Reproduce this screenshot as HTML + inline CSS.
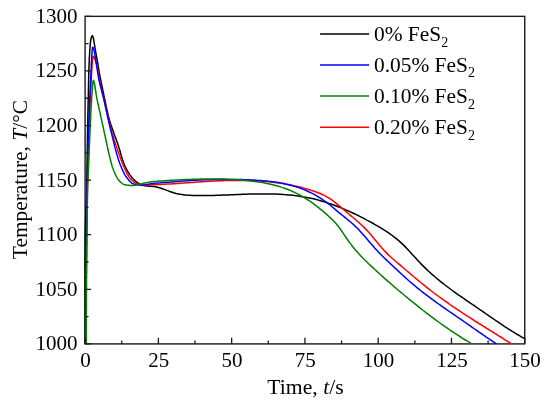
<!DOCTYPE html>
<html><head><meta charset="utf-8"><title>Cooling curves</title>
<style>
html,body{margin:0;padding:0;background:#fff}
svg{display:block}
text{font-family:"Liberation Serif","Times New Roman",serif;fill:#000}
</style></head><body>
<svg width="550" height="404" viewBox="0 0 550 404">
<rect width="550" height="404" fill="#fff"/>
<rect x="85.1" y="16.35" width="439.65" height="327.55" fill="none" stroke="#1a1a1a" stroke-width="1.4"/>
<g fill="none" stroke-width="1.5" stroke-linejoin="round" stroke-linecap="butt">
<path stroke="#000000" d="M85.1,343.9 L85.1,342.9 L85.1,341.9 L85.1,340.9 L85.1,339.9 L85.1,338.9 L85.1,337.9 L85.1,336.9 L85.1,335.9 L85.1,334.9 L85.1,333.9 L85.1,332.9 L85.1,331.9 L85.1,330.9 L85.1,329.9 L85.1,328.9 L85.1,327.9 L85.1,326.9 L85.1,325.9 L85.1,324.9 L85.1,323.9 L85.1,322.9 L85.1,321.9 L85.1,320.9 L85.1,319.9 L85.1,318.9 L85.1,317.9 L85.1,316.9 L85.1,315.9 L85.1,314.9 L85.1,313.9 L85.1,312.9 L85.1,311.9 L85.1,310.8 L85.1,309.8 L85.1,308.8 L85.1,307.8 L85.1,306.8 L85.1,305.8 L85.1,304.8 L85.1,303.8 L85.1,302.8 L85.1,301.8 L85.1,300.8 L85.1,299.8 L85.1,298.8 L85.1,297.8 L85.1,296.8 L85.1,295.8 L85.1,294.8 L85.1,293.8 L85.1,292.8 L85.1,291.8 L85.1,290.8 L85.1,289.8 L85.1,288.8 L85.1,287.8 L85.1,286.8 L85.1,285.8 L85.1,284.8 L85.1,283.8 L85.1,282.8 L85.1,281.8 L85.1,280.8 L85.1,279.8 L85.1,278.8 L85.1,277.8 L85.1,276.8 L85.1,275.8 L85.1,274.8 L85.1,273.8 L85.1,272.8 L85.1,271.8 L85.1,270.8 L85.1,269.8 L85.1,268.8 L85.1,267.8 L85.1,266.8 L85.1,265.8 L85.1,264.8 L85.1,263.8 L85.1,262.8 L85.1,261.8 L85.1,260.8 L85.1,259.8 L85.1,258.8 L85.1,257.8 L85.2,256.8 L85.2,255.8 L85.2,254.8 L85.2,253.8 L85.2,252.8 L85.2,251.8 L85.2,250.8 L85.2,249.8 L85.2,248.8 L85.2,247.8 L85.2,246.8 L85.2,245.8 L85.2,244.7 L85.2,243.7 L85.2,242.7 L85.2,241.7 L85.2,240.7 L85.2,239.7 L85.2,238.7 L85.2,237.7 L85.2,236.7 L85.2,235.7 L85.3,234.7 L85.3,233.7 L85.3,232.7 L85.3,231.7 L85.3,230.7 L85.3,229.7 L85.4,228.7 L85.4,227.7 L85.4,226.7 L85.5,225.7 L85.5,224.7 L85.5,223.7 L85.5,222.7 L85.6,221.7 L85.6,220.7 L85.6,219.7 L85.7,218.7 L85.7,217.7 L85.7,216.7 L85.7,215.7 L85.8,214.7 L85.8,213.7 L85.9,212.7 L85.9,211.7 L85.9,210.7 L86.0,209.7 L86.0,208.7 L86.1,207.7 L86.1,206.7 L86.2,205.7 L86.2,204.7 L86.3,203.7 L86.3,202.7 L86.4,201.7 L86.4,200.7 L86.5,199.7 L86.5,198.7 L86.5,197.7 L86.6,196.7 L86.6,195.7 L86.6,194.7 L86.6,193.7 L86.6,192.7 L86.7,191.7 L86.7,190.7 L86.7,189.7 L86.7,188.7 L86.7,187.7 L86.8,186.7 L86.8,185.7 L86.8,184.7 L86.8,183.7 L86.8,182.7 L86.8,181.7 L86.8,180.7 L86.9,179.7 L86.9,178.7 L86.9,177.7 L86.9,176.7 L86.9,175.7 L86.9,174.7 L86.9,173.7 L86.9,172.7 L86.9,171.7 L87.0,170.7 L87.0,169.7 L87.0,168.7 L87.0,167.7 L87.0,166.7 L87.0,165.7 L87.0,164.7 L87.0,163.7 L87.1,162.7 L87.1,161.7 L87.1,160.6 L87.1,159.6 L87.1,158.6 L87.1,157.6 L87.2,156.6 L87.2,155.6 L87.2,154.6 L87.2,153.6 L87.2,152.6 L87.2,151.6 L87.2,150.6 L87.3,149.6 L87.3,148.6 L87.3,147.6 L87.3,146.6 L87.3,145.6 L87.3,144.6 L87.4,143.6 L87.4,142.6 L87.4,141.6 L87.4,140.6 L87.4,139.6 L87.4,138.6 L87.5,137.6 L87.5,136.6 L87.5,135.6 L87.5,134.6 L87.5,133.6 L87.5,132.6 L87.6,131.6 L87.6,130.6 L87.6,129.6 L87.6,128.6 L87.6,127.6 L87.7,126.6 L87.7,125.6 L87.7,124.6 L87.7,123.6 L87.7,122.6 L87.7,121.6 L87.8,120.6 L87.8,119.6 L87.8,118.6 L87.8,117.6 L87.8,116.6 L87.9,115.6 L87.9,114.6 L87.9,113.6 L87.9,112.6 L88.0,111.6 L88.0,110.6 L88.0,109.6 L88.0,108.6 L88.0,107.6 L88.1,106.6 L88.1,105.6 L88.1,104.6 L88.1,103.6 L88.1,102.6 L88.2,101.6 L88.2,100.6 L88.2,99.6 L88.2,98.6 L88.3,97.6 L88.3,96.6 L88.3,95.6 L88.3,94.6 L88.3,93.6 L88.4,92.6 L88.4,91.6 L88.4,90.6 L88.4,89.6 L88.4,88.6 L88.5,87.5 L88.5,86.5 L88.5,85.5 L88.5,84.5 L88.5,83.5 L88.6,82.5 L88.6,81.5 L88.6,80.5 L88.6,79.5 L88.7,78.5 L88.7,77.5 L88.7,76.5 L88.7,75.5 L88.8,74.5 L88.8,73.5 L88.8,72.5 L88.9,71.5 L88.9,70.5 L88.9,69.5 L88.9,68.5 L89.0,67.5 L89.0,66.5 L89.1,65.5 L89.1,64.5 L89.1,63.5 L89.2,62.5 L89.2,61.5 L89.3,60.5 L89.3,59.5 L89.3,58.5 L89.4,57.5 L89.4,56.5 L89.5,55.5 L89.6,54.5 L89.6,53.5 L89.7,52.5 L89.7,51.5 L89.8,50.5 L89.9,49.5 L89.9,48.5 L90.0,47.5 L90.1,46.5 L90.2,45.5 L90.2,44.5 L90.3,43.5 L90.4,42.5 L90.6,41.5 L90.7,40.5 L90.9,39.5 L91.1,38.6 L91.4,37.4 L91.8,36.3 L92.3,35.7 L92.7,36.2 L93.1,37.3 L93.4,38.4 L93.6,39.3 L93.8,40.3 L94.0,41.3 L94.1,42.3 L94.3,43.3 L94.4,44.3 L94.6,45.3 L94.8,46.3 L94.9,47.2 L95.1,48.2 L95.2,49.2 L95.4,50.2 L95.5,51.2 L95.7,52.2 L95.9,53.2 L96.1,54.2 L96.2,55.1 L96.4,56.1 L96.6,57.1 L96.8,58.1 L97.0,59.1 L97.2,60.1 L97.3,61.1 L97.5,62.0 L97.7,63.0 L97.8,64.0 L98.0,65.0 L98.2,66.0 L98.3,67.0 L98.5,68.0 L98.7,69.0 L98.8,70.0 L99.0,70.9 L99.2,71.9 L99.3,72.9 L99.5,73.9 L99.7,74.9 L99.9,75.9 L100.1,76.8 L100.3,77.8 L100.5,78.8 L100.7,79.8 L100.9,80.8 L101.1,81.8 L101.3,82.7 L101.5,83.7 L101.7,84.7 L101.9,85.7 L102.1,86.6 L102.3,87.6 L102.5,88.6 L102.7,89.6 L102.9,90.6 L103.1,91.6 L103.3,92.5 L103.5,93.5 L103.7,94.5 L103.9,95.5 L104.1,96.5 L104.3,97.4 L104.5,98.4 L104.8,99.4 L105.0,100.4 L105.2,101.4 L105.4,102.3 L105.6,103.3 L105.8,104.3 L106.0,105.3 L106.2,106.3 L106.4,107.2 L106.6,108.2 L106.8,109.2 L107.1,110.2 L107.3,111.2 L107.5,112.1 L107.7,113.1 L107.9,114.1 L108.2,115.1 L108.4,116.0 L108.7,117.0 L108.9,118.0 L109.2,118.9 L109.4,119.9 L109.7,120.9 L110.0,121.8 L110.3,122.8 L110.6,123.7 L110.9,124.7 L111.3,125.6 L111.6,126.6 L111.9,127.5 L112.3,128.5 L112.6,129.4 L112.9,130.4 L113.3,131.3 L113.6,132.2 L113.9,133.2 L114.2,134.1 L114.6,135.1 L114.9,136.0 L115.3,137.0 L115.6,137.9 L116.0,138.8 L116.3,139.8 L116.7,140.7 L117.0,141.7 L117.3,142.6 L117.7,143.6 L118.0,144.5 L118.3,145.4 L118.6,146.4 L118.9,147.4 L119.2,148.3 L119.5,149.3 L119.8,150.2 L120.1,151.2 L120.3,152.2 L120.6,153.2 L120.9,154.1 L121.1,155.1 L121.4,156.1 L121.7,157.0 L122.0,158.0 L122.3,158.9 L122.6,159.9 L122.9,160.8 L123.2,161.8 L123.6,162.7 L123.9,163.6 L124.3,164.5 L124.7,165.5 L125.1,166.4 L125.6,167.3 L126.0,168.2 L126.5,169.1 L127.0,170.0 L127.4,170.9 L127.9,171.8 L128.5,172.6 L129.0,173.5 L129.5,174.3 L130.1,175.1 L130.7,175.9 L131.3,176.7 L131.9,177.5 L132.6,178.2 L133.3,179.0 L134.0,179.7 L134.7,180.4 L135.5,181.1 L136.3,181.7 L137.0,182.3 L137.9,182.9 L138.7,183.4 L139.6,183.9 L140.5,184.4 L141.5,184.8 L142.4,185.1 L143.3,185.3 L144.3,185.5 L145.3,185.7 L146.3,185.9 L147.3,186.0 L148.3,186.1 L149.3,186.2 L150.3,186.3 L152.3,186.5 L154.3,186.6 L156.3,186.9 L158.3,187.4 L160.3,188.0 L162.3,188.7 L164.3,189.4 L166.3,190.1 L168.3,190.9 L170.3,191.7 L172.3,192.3 L174.3,193.0 L176.3,193.5 L178.3,193.9 L180.3,194.3 L182.3,194.6 L184.3,194.9 L186.3,195.1 L188.3,195.2 L190.3,195.3 L192.3,195.4 L194.3,195.5 L196.3,195.5 L198.3,195.5 L200.3,195.5 L202.3,195.6 L204.3,195.5 L206.3,195.5 L208.3,195.5 L210.3,195.5 L212.3,195.4 L214.3,195.4 L216.3,195.3 L218.3,195.3 L220.3,195.2 L222.3,195.1 L224.3,195.1 L226.3,195.0 L228.3,194.9 L230.3,194.8 L232.3,194.7 L234.3,194.7 L236.3,194.6 L238.3,194.5 L240.3,194.4 L242.3,194.3 L244.3,194.3 L246.3,194.2 L248.3,194.1 L250.3,194.1 L252.3,194.0 L254.3,194.0 L256.3,193.9 L258.3,193.9 L260.3,193.9 L262.3,193.9 L264.3,193.9 L266.3,193.9 L268.3,193.9 L270.3,193.9 L272.3,194.0 L274.3,194.0 L276.3,194.1 L278.3,194.2 L280.3,194.3 L282.3,194.4 L284.3,194.6 L286.3,194.7 L288.3,194.9 L290.3,195.1 L292.3,195.3 L294.3,195.5 L296.3,195.8 L298.3,196.1 L300.3,196.4 L302.3,196.7 L304.3,197.0 L306.3,197.4 L308.3,197.8 L310.3,198.2 L312.3,198.6 L314.3,199.1 L316.3,199.6 L318.3,200.1 L320.3,200.7 L322.3,201.3 L324.3,201.9 L326.3,202.5 L328.3,203.2 L330.3,203.8 L332.3,204.5 L334.3,205.3 L336.3,206.0 L338.3,206.8 L340.3,207.6 L342.3,208.4 L344.3,209.2 L346.3,210.1 L348.3,211.0 L350.3,211.9 L352.3,212.8 L354.3,213.7 L356.3,214.7 L358.3,215.7 L360.3,216.7 L362.3,217.7 L364.3,218.7 L366.3,219.8 L368.3,220.8 L370.3,221.9 L372.3,223.0 L374.3,224.2 L376.3,225.3 L378.3,226.4 L380.3,227.6 L382.3,228.8 L384.3,230.1 L386.3,231.4 L388.3,232.7 L390.3,234.1 L392.3,235.5 L394.3,237.1 L396.3,238.7 L398.3,240.3 L400.3,242.1 L402.3,243.9 L404.3,245.9 L406.3,247.9 L408.3,250.0 L410.3,252.2 L412.3,254.4 L414.3,256.6 L416.3,258.8 L418.3,261.0 L420.3,263.1 L422.3,265.1 L424.3,267.1 L426.3,269.1 L428.3,271.0 L430.3,272.8 L432.3,274.6 L434.3,276.3 L436.3,278.0 L438.3,279.7 L440.3,281.3 L442.3,282.9 L444.3,284.5 L446.3,286.0 L448.3,287.5 L450.3,289.0 L452.3,290.5 L454.3,291.9 L456.3,293.3 L458.3,294.8 L460.3,296.2 L462.3,297.5 L464.3,298.9 L466.3,300.3 L468.3,301.7 L470.3,303.0 L472.3,304.4 L474.3,305.7 L476.3,307.1 L478.3,308.5 L480.3,309.9 L482.3,311.2 L484.3,312.6 L486.3,314.0 L488.3,315.4 L490.3,316.8 L492.3,318.1 L494.3,319.5 L496.3,320.9 L498.3,322.2 L500.3,323.6 L502.3,324.9 L504.3,326.3 L506.3,327.6 L508.3,328.9 L510.3,330.1 L512.3,331.4 L514.3,332.6 L516.3,333.8 L518.3,335.0 L520.3,336.2 L522.3,337.3 L524.3,338.4 L524.5,338.5"/>
<path stroke="#ff0000" d="M86.0,343.9 L86.0,342.9 L86.0,341.9 L86.0,340.9 L86.0,339.9 L86.0,338.9 L86.0,337.9 L86.0,336.9 L86.0,335.9 L86.0,334.9 L86.0,333.9 L86.0,332.9 L86.0,331.9 L86.1,330.9 L86.1,329.9 L86.1,328.9 L86.1,327.9 L86.1,326.9 L86.1,325.9 L86.1,324.9 L86.1,323.9 L86.1,322.9 L86.1,321.9 L86.1,320.9 L86.1,319.9 L86.1,318.9 L86.1,317.9 L86.1,316.9 L86.1,315.8 L86.1,314.8 L86.1,313.8 L86.1,312.8 L86.1,311.8 L86.1,310.8 L86.1,309.8 L86.2,308.8 L86.2,307.8 L86.2,306.8 L86.2,305.8 L86.2,304.8 L86.2,303.8 L86.2,302.8 L86.2,301.8 L86.2,300.8 L86.2,299.8 L86.2,298.8 L86.2,297.8 L86.2,296.8 L86.2,295.8 L86.2,294.8 L86.2,293.8 L86.2,292.8 L86.2,291.8 L86.2,290.8 L86.3,289.8 L86.3,288.8 L86.3,287.8 L86.3,286.8 L86.3,285.8 L86.3,284.8 L86.3,283.8 L86.3,282.8 L86.3,281.8 L86.3,280.8 L86.3,279.8 L86.3,278.8 L86.3,277.8 L86.3,276.8 L86.3,275.8 L86.3,274.8 L86.3,273.8 L86.4,272.8 L86.4,271.8 L86.4,270.8 L86.4,269.8 L86.4,268.8 L86.4,267.8 L86.4,266.8 L86.4,265.8 L86.4,264.8 L86.4,263.8 L86.4,262.8 L86.4,261.8 L86.4,260.7 L86.4,259.7 L86.4,258.7 L86.5,257.7 L86.5,256.7 L86.5,255.7 L86.5,254.7 L86.5,253.7 L86.5,252.7 L86.5,251.7 L86.5,250.7 L86.5,249.7 L86.5,248.7 L86.5,247.7 L86.5,246.7 L86.5,245.7 L86.6,244.7 L86.6,243.7 L86.6,242.7 L86.6,241.7 L86.6,240.7 L86.6,239.7 L86.6,238.7 L86.6,237.7 L86.6,236.7 L86.6,235.7 L86.7,234.7 L86.7,233.7 L86.7,232.7 L86.7,231.7 L86.7,230.7 L86.7,229.7 L86.7,228.7 L86.7,227.7 L86.8,226.7 L86.8,225.7 L86.8,224.7 L86.8,223.7 L86.8,222.7 L86.8,221.7 L86.8,220.7 L86.9,219.7 L86.9,218.7 L86.9,217.7 L86.9,216.7 L86.9,215.7 L86.9,214.7 L87.0,213.7 L87.0,212.7 L87.0,211.7 L87.0,210.7 L87.0,209.7 L87.1,208.7 L87.1,207.7 L87.1,206.7 L87.1,205.7 L87.1,204.7 L87.1,203.7 L87.2,202.6 L87.2,201.6 L87.2,200.6 L87.2,199.6 L87.2,198.6 L87.3,197.6 L87.3,196.6 L87.3,195.6 L87.3,194.6 L87.3,193.6 L87.4,192.6 L87.4,191.6 L87.4,190.6 L87.4,189.6 L87.4,188.6 L87.4,187.6 L87.5,186.6 L87.5,185.6 L87.5,184.6 L87.5,183.6 L87.5,182.6 L87.6,181.6 L87.6,180.6 L87.6,179.6 L87.6,178.6 L87.6,177.6 L87.7,176.6 L87.7,175.6 L87.7,174.6 L87.7,173.6 L87.7,172.6 L87.8,171.6 L87.8,170.6 L87.8,169.6 L87.8,168.6 L87.9,167.6 L87.9,166.6 L87.9,165.6 L87.9,164.6 L87.9,163.6 L88.0,162.6 L88.0,161.6 L88.0,160.6 L88.0,159.6 L88.1,158.6 L88.1,157.6 L88.1,156.6 L88.1,155.6 L88.2,154.6 L88.2,153.6 L88.2,152.6 L88.3,151.6 L88.3,150.6 L88.3,149.6 L88.3,148.6 L88.4,147.6 L88.4,146.6 L88.4,145.6 L88.5,144.6 L88.5,143.6 L88.5,142.6 L88.6,141.6 L88.6,140.6 L88.6,139.6 L88.7,138.6 L88.7,137.5 L88.7,136.5 L88.8,135.5 L88.8,134.5 L88.9,133.5 L88.9,132.5 L88.9,131.5 L89.0,130.5 L89.0,129.5 L89.1,128.5 L89.1,127.5 L89.1,126.5 L89.2,125.5 L89.2,124.5 L89.3,123.5 L89.3,122.5 L89.3,121.5 L89.4,120.5 L89.4,119.5 L89.5,118.5 L89.5,117.5 L89.5,116.5 L89.6,115.5 L89.6,114.5 L89.7,113.5 L89.7,112.5 L89.8,111.5 L89.8,110.5 L89.8,109.5 L89.9,108.5 L89.9,107.5 L90.0,106.5 L90.0,105.5 L90.1,104.5 L90.1,103.5 L90.2,102.5 L90.2,101.5 L90.3,100.5 L90.3,99.5 L90.4,98.5 L90.4,97.5 L90.4,96.5 L90.5,95.5 L90.5,94.5 L90.6,93.5 L90.6,92.5 L90.7,91.5 L90.7,90.5 L90.8,89.5 L90.8,88.5 L90.9,87.5 L90.9,86.5 L91.0,85.5 L91.0,84.5 L91.1,83.5 L91.1,82.5 L91.2,81.5 L91.2,80.5 L91.3,79.5 L91.3,78.5 L91.4,77.5 L91.4,76.5 L91.5,75.5 L91.5,74.5 L91.6,73.5 L91.6,72.5 L91.7,71.5 L91.8,70.5 L91.8,69.5 L91.9,68.5 L92.0,67.5 L92.0,66.5 L92.1,65.5 L92.1,64.5 L92.2,63.5 L92.3,62.5 L92.4,61.5 L92.5,60.5 L92.6,59.5 L92.7,58.3 L92.9,57.1 L93.1,56.3 L93.5,56.4 L94.0,57.4 L94.6,58.5 L95.0,59.4 L95.3,60.3 L95.7,61.3 L96.0,62.2 L96.3,63.2 L96.5,64.1 L96.8,65.1 L97.0,66.1 L97.2,67.1 L97.4,68.1 L97.6,69.0 L97.8,70.0 L98.0,71.0 L98.1,72.0 L98.3,73.0 L98.4,74.0 L98.6,75.0 L98.7,76.0 L98.9,77.0 L99.0,77.9 L99.2,78.9 L99.4,79.9 L99.6,80.9 L99.8,81.9 L100.0,82.9 L100.2,83.8 L100.5,84.8 L100.7,85.8 L100.9,86.8 L101.2,87.7 L101.4,88.7 L101.6,89.7 L101.9,90.6 L102.1,91.6 L102.4,92.6 L102.6,93.6 L102.8,94.5 L103.1,95.5 L103.3,96.5 L103.6,97.5 L103.8,98.4 L104.1,99.4 L104.3,100.4 L104.5,101.3 L104.7,102.3 L105.0,103.3 L105.2,104.3 L105.4,105.3 L105.6,106.2 L105.8,107.2 L106.0,108.2 L106.3,109.2 L106.5,110.2 L106.7,111.1 L106.9,112.1 L107.1,113.1 L107.3,114.1 L107.6,115.0 L107.8,116.0 L108.0,117.0 L108.2,118.0 L108.5,118.9 L108.7,119.9 L109.0,120.9 L109.2,121.9 L109.5,122.8 L109.7,123.8 L110.0,124.8 L110.2,125.7 L110.5,126.7 L110.7,127.7 L111.0,128.6 L111.2,129.6 L111.5,130.6 L111.8,131.5 L112.0,132.5 L112.3,133.5 L112.6,134.4 L112.9,135.4 L113.2,136.4 L113.4,137.3 L113.7,138.3 L114.0,139.2 L114.3,140.2 L114.6,141.1 L114.9,142.1 L115.2,143.1 L115.5,144.0 L115.9,145.0 L116.2,145.9 L116.5,146.9 L116.8,147.8 L117.2,148.7 L117.5,149.7 L117.8,150.6 L118.2,151.6 L118.5,152.5 L118.8,153.5 L119.2,154.4 L119.5,155.4 L119.8,156.3 L120.2,157.3 L120.5,158.2 L120.9,159.2 L121.2,160.1 L121.6,161.0 L121.9,162.0 L122.3,162.9 L122.7,163.8 L123.0,164.7 L123.4,165.7 L123.8,166.6 L124.2,167.5 L124.7,168.4 L125.1,169.4 L125.5,170.3 L125.9,171.2 L126.4,172.2 L126.8,173.1 L127.3,174.0 L127.8,174.9 L128.3,175.7 L128.8,176.6 L129.4,177.4 L129.9,178.1 L130.5,178.9 L131.2,179.6 L131.9,180.3 L132.7,181.0 L133.5,181.6 L134.3,182.3 L135.2,182.8 L136.1,183.3 L136.9,183.7 L137.8,184.1 L138.8,184.5 L139.7,184.8 L140.7,185.1 L141.7,185.4 L142.7,185.5 L143.7,185.5 L144.7,185.5 L145.7,185.4 L146.7,185.4 L147.7,185.3 L148.7,185.2 L149.7,185.1 L150.7,185.0 L152.7,184.8 L154.7,184.7 L156.7,184.6 L158.7,184.5 L160.7,184.4 L162.7,184.3 L164.7,184.2 L166.7,184.1 L168.7,184.0 L170.7,183.9 L172.7,183.8 L174.7,183.7 L176.7,183.5 L178.7,183.4 L180.7,183.2 L182.7,183.1 L184.7,182.9 L186.7,182.8 L188.7,182.7 L190.7,182.5 L192.7,182.4 L194.7,182.2 L196.7,182.1 L198.7,182.0 L200.7,181.8 L202.7,181.7 L204.7,181.6 L206.7,181.5 L208.7,181.3 L210.7,181.2 L212.7,181.1 L214.7,181.0 L216.7,180.9 L218.7,180.8 L220.7,180.8 L222.7,180.7 L224.7,180.6 L226.7,180.6 L228.7,180.5 L230.7,180.5 L232.7,180.4 L234.7,180.4 L236.7,180.4 L238.7,180.4 L240.7,180.4 L242.7,180.4 L244.7,180.4 L246.7,180.5 L248.7,180.5 L250.7,180.6 L252.7,180.7 L254.7,180.7 L256.7,180.9 L258.7,181.0 L260.7,181.1 L262.7,181.2 L264.7,181.4 L266.7,181.6 L268.7,181.8 L270.7,182.0 L272.7,182.2 L274.7,182.4 L276.7,182.7 L278.7,183.0 L280.7,183.3 L282.7,183.6 L284.7,183.9 L286.7,184.3 L288.7,184.6 L290.7,185.0 L292.7,185.4 L294.7,185.9 L296.7,186.3 L298.7,186.8 L300.7,187.3 L302.7,187.8 L304.7,188.4 L306.7,188.9 L308.7,189.5 L310.7,190.2 L312.7,190.8 L314.7,191.5 L316.7,192.2 L318.7,193.0 L320.7,193.8 L322.7,194.7 L324.7,195.7 L326.7,196.8 L328.7,197.9 L330.7,199.2 L332.7,200.7 L334.7,202.2 L336.7,203.8 L338.7,205.4 L340.7,207.1 L342.7,208.8 L344.7,210.5 L346.7,212.3 L348.7,214.0 L350.7,215.6 L352.7,217.3 L354.7,219.0 L356.7,220.7 L358.7,222.4 L360.7,224.2 L362.7,226.1 L364.7,228.1 L366.7,230.1 L368.7,232.3 L370.7,234.6 L372.7,237.0 L374.7,239.4 L376.7,241.8 L378.7,244.2 L380.7,246.6 L382.7,248.9 L384.7,251.1 L386.7,253.1 L388.7,255.1 L390.7,257.0 L392.7,258.8 L394.7,260.5 L396.7,262.2 L398.7,263.9 L400.7,265.6 L402.7,267.3 L404.7,269.0 L406.7,270.7 L408.7,272.4 L410.7,274.1 L412.7,275.8 L414.7,277.5 L416.7,279.2 L418.7,280.8 L420.7,282.5 L422.7,284.1 L424.7,285.7 L426.7,287.3 L428.7,288.9 L430.7,290.5 L432.7,292.0 L434.7,293.5 L436.7,295.0 L438.7,296.5 L440.7,297.9 L442.7,299.4 L444.7,300.8 L446.7,302.2 L448.7,303.6 L450.7,305.0 L452.7,306.4 L454.7,307.7 L456.7,309.1 L458.7,310.4 L460.7,311.7 L462.7,313.1 L464.7,314.4 L466.7,315.7 L468.7,316.9 L470.7,318.2 L472.7,319.5 L474.7,320.8 L476.7,322.0 L478.7,323.3 L480.7,324.5 L482.7,325.8 L484.7,327.0 L486.7,328.3 L488.7,329.5 L490.7,330.8 L492.7,332.0 L494.7,333.3 L496.7,334.5 L498.7,335.8 L500.7,337.0 L502.7,338.3 L504.7,339.6 L506.7,340.8 L508.7,342.1 L510.7,343.4 L511.5,343.9"/>
<path stroke="#0000ff" d="M85.9,343.9 L85.9,342.9 L85.9,341.9 L85.9,340.9 L85.9,339.9 L85.9,338.9 L85.9,337.9 L85.9,336.9 L85.9,335.9 L85.9,334.9 L85.9,333.9 L85.9,332.9 L85.9,331.9 L86.0,330.9 L86.0,329.9 L86.0,328.9 L86.0,327.9 L86.0,326.9 L86.0,325.9 L86.0,324.9 L86.0,323.9 L86.0,322.9 L86.0,321.9 L86.0,320.9 L86.0,319.9 L86.0,318.9 L86.0,317.9 L86.0,316.9 L86.0,315.9 L86.0,314.9 L86.0,313.9 L86.0,312.9 L86.0,311.9 L86.0,310.9 L86.0,309.8 L86.1,308.8 L86.1,307.8 L86.1,306.8 L86.1,305.8 L86.1,304.8 L86.1,303.8 L86.1,302.8 L86.1,301.8 L86.1,300.8 L86.1,299.8 L86.1,298.8 L86.1,297.8 L86.1,296.8 L86.1,295.8 L86.1,294.8 L86.1,293.8 L86.1,292.8 L86.1,291.8 L86.1,290.8 L86.2,289.8 L86.2,288.8 L86.2,287.8 L86.2,286.8 L86.2,285.8 L86.2,284.8 L86.2,283.8 L86.2,282.8 L86.2,281.8 L86.2,280.8 L86.2,279.8 L86.2,278.8 L86.2,277.8 L86.2,276.8 L86.2,275.8 L86.2,274.8 L86.2,273.8 L86.3,272.8 L86.3,271.8 L86.3,270.8 L86.3,269.8 L86.3,268.8 L86.3,267.8 L86.3,266.8 L86.3,265.8 L86.3,264.8 L86.3,263.8 L86.3,262.8 L86.3,261.8 L86.3,260.8 L86.3,259.8 L86.3,258.8 L86.4,257.8 L86.4,256.8 L86.4,255.8 L86.4,254.8 L86.4,253.8 L86.4,252.8 L86.4,251.8 L86.4,250.8 L86.4,249.8 L86.4,248.8 L86.4,247.8 L86.4,246.8 L86.4,245.8 L86.5,244.8 L86.5,243.7 L86.5,242.7 L86.5,241.7 L86.5,240.7 L86.5,239.7 L86.5,238.7 L86.5,237.7 L86.5,236.7 L86.5,235.7 L86.6,234.7 L86.6,233.7 L86.6,232.7 L86.6,231.7 L86.6,230.7 L86.6,229.7 L86.6,228.7 L86.6,227.7 L86.6,226.7 L86.7,225.7 L86.7,224.7 L86.7,223.7 L86.7,222.7 L86.7,221.7 L86.7,220.7 L86.7,219.7 L86.7,218.7 L86.8,217.7 L86.8,216.7 L86.8,215.7 L86.8,214.7 L86.8,213.7 L86.8,212.7 L86.8,211.7 L86.9,210.7 L86.9,209.7 L86.9,208.7 L86.9,207.7 L86.9,206.7 L86.9,205.7 L87.0,204.7 L87.0,203.7 L87.0,202.7 L87.0,201.7 L87.0,200.7 L87.0,199.7 L87.0,198.7 L87.1,197.7 L87.1,196.7 L87.1,195.7 L87.1,194.7 L87.1,193.7 L87.2,192.7 L87.2,191.7 L87.2,190.7 L87.2,189.7 L87.2,188.7 L87.2,187.7 L87.3,186.7 L87.3,185.7 L87.3,184.7 L87.3,183.7 L87.3,182.7 L87.4,181.7 L87.4,180.7 L87.4,179.7 L87.4,178.7 L87.5,177.7 L87.5,176.7 L87.5,175.7 L87.5,174.7 L87.6,173.7 L87.6,172.7 L87.6,171.7 L87.6,170.6 L87.7,169.6 L87.7,168.6 L87.7,167.6 L87.7,166.6 L87.8,165.6 L87.8,164.6 L87.8,163.6 L87.8,162.6 L87.9,161.6 L87.9,160.6 L87.9,159.6 L87.9,158.6 L88.0,157.6 L88.0,156.6 L88.0,155.6 L88.0,154.6 L88.0,153.6 L88.1,152.6 L88.1,151.6 L88.1,150.6 L88.1,149.6 L88.1,148.6 L88.2,147.6 L88.2,146.6 L88.2,145.6 L88.2,144.6 L88.3,143.6 L88.3,142.6 L88.3,141.6 L88.3,140.6 L88.3,139.6 L88.4,138.6 L88.4,137.6 L88.4,136.6 L88.4,135.6 L88.5,134.6 L88.5,133.6 L88.5,132.6 L88.5,131.6 L88.6,130.6 L88.6,129.6 L88.6,128.6 L88.7,127.6 L88.7,126.6 L88.7,125.6 L88.7,124.6 L88.8,123.6 L88.8,122.6 L88.8,121.6 L88.9,120.6 L88.9,119.6 L89.0,118.6 L89.0,117.6 L89.0,116.6 L89.1,115.6 L89.1,114.6 L89.1,113.6 L89.2,112.6 L89.2,111.6 L89.3,110.6 L89.3,109.6 L89.3,108.6 L89.4,107.6 L89.4,106.6 L89.5,105.6 L89.5,104.6 L89.5,103.6 L89.6,102.6 L89.6,101.6 L89.7,100.6 L89.7,99.6 L89.7,98.6 L89.8,97.6 L89.8,96.6 L89.9,95.6 L89.9,94.6 L90.0,93.6 L90.0,92.6 L90.1,91.6 L90.1,90.6 L90.1,89.6 L90.2,88.6 L90.2,87.6 L90.3,86.6 L90.3,85.6 L90.4,84.6 L90.4,83.6 L90.5,82.6 L90.5,81.6 L90.6,80.6 L90.6,79.6 L90.7,78.6 L90.7,77.6 L90.8,76.6 L90.8,75.6 L90.9,74.6 L90.9,73.6 L91.0,72.6 L91.0,71.6 L91.1,70.6 L91.1,69.6 L91.2,68.6 L91.2,67.6 L91.3,66.6 L91.3,65.6 L91.3,64.6 L91.4,63.6 L91.4,62.6 L91.5,61.5 L91.5,60.5 L91.6,59.5 L91.6,58.5 L91.7,57.5 L91.7,56.5 L91.8,55.6 L91.9,54.6 L92.0,53.6 L92.0,52.5 L92.1,51.3 L92.2,50.0 L92.4,48.8 L92.5,47.8 L92.7,47.3 L93.0,47.4 L93.4,48.3 L93.9,49.5 L94.1,50.5 L94.4,51.5 L94.5,52.5 L94.7,53.5 L94.9,54.5 L95.0,55.5 L95.1,56.5 L95.3,57.4 L95.4,58.4 L95.6,59.4 L95.8,60.4 L95.9,61.4 L96.1,62.4 L96.2,63.4 L96.4,64.4 L96.6,65.4 L96.7,66.4 L96.9,67.3 L97.0,68.3 L97.2,69.3 L97.3,70.3 L97.5,71.3 L97.7,72.3 L97.8,73.3 L98.0,74.3 L98.1,75.3 L98.3,76.3 L98.4,77.2 L98.6,78.2 L98.8,79.2 L99.0,80.2 L99.2,81.2 L99.4,82.1 L99.7,83.1 L99.9,84.1 L100.2,85.0 L100.5,86.0 L100.7,87.0 L101.0,87.9 L101.3,88.9 L101.5,89.9 L101.7,90.9 L102.0,91.8 L102.2,92.8 L102.5,93.8 L102.7,94.7 L103.0,95.7 L103.2,96.7 L103.4,97.7 L103.7,98.6 L103.9,99.6 L104.1,100.6 L104.3,101.6 L104.6,102.5 L104.8,103.5 L105.0,104.5 L105.2,105.5 L105.4,106.5 L105.6,107.4 L105.8,108.4 L106.0,109.4 L106.2,110.4 L106.4,111.4 L106.7,112.3 L106.9,113.3 L107.1,114.3 L107.3,115.3 L107.5,116.3 L107.7,117.2 L107.9,118.2 L108.2,119.2 L108.4,120.2 L108.6,121.1 L108.8,122.1 L109.1,123.1 L109.3,124.1 L109.5,125.0 L109.8,126.0 L110.0,127.0 L110.2,128.0 L110.5,128.9 L110.7,129.9 L110.9,130.9 L111.2,131.8 L111.4,132.8 L111.7,133.8 L111.9,134.8 L112.1,135.7 L112.4,136.7 L112.6,137.7 L112.9,138.7 L113.1,139.6 L113.3,140.6 L113.6,141.6 L113.8,142.5 L114.0,143.5 L114.3,144.5 L114.5,145.5 L114.7,146.4 L115.0,147.4 L115.2,148.4 L115.5,149.4 L115.7,150.3 L116.0,151.3 L116.3,152.2 L116.6,153.2 L116.8,154.2 L117.1,155.1 L117.4,156.1 L117.7,157.1 L118.0,158.0 L118.3,159.0 L118.6,160.0 L118.9,160.9 L119.2,161.9 L119.6,162.8 L119.9,163.7 L120.3,164.7 L120.6,165.6 L121.0,166.5 L121.4,167.4 L121.8,168.4 L122.2,169.3 L122.6,170.2 L123.0,171.2 L123.5,172.1 L124.0,173.0 L124.4,173.9 L124.9,174.8 L125.4,175.6 L126.0,176.5 L126.5,177.3 L127.1,178.1 L127.7,178.8 L128.3,179.6 L129.0,180.4 L129.7,181.2 L130.5,182.0 L131.3,182.7 L132.1,183.3 L132.9,183.8 L133.8,184.1 L134.6,184.3 L135.6,184.5 L136.6,184.7 L137.6,184.8 L138.6,185.0 L139.7,185.0 L140.7,185.1 L141.7,185.1 L142.7,185.1 L143.7,185.0 L144.7,184.9 L145.6,184.7 L146.6,184.6 L147.6,184.4 L148.6,184.2 L149.6,184.0 L150.6,183.8 L152.6,183.5 L154.6,183.2 L156.6,183.1 L158.6,182.9 L160.6,182.8 L162.6,182.6 L164.6,182.5 L166.6,182.3 L168.6,182.2 L170.6,182.0 L172.6,181.9 L174.6,181.7 L176.6,181.6 L178.6,181.4 L180.6,181.2 L182.6,181.1 L184.6,181.0 L186.6,180.8 L188.6,180.7 L190.6,180.6 L192.6,180.4 L194.6,180.3 L196.6,180.2 L198.6,180.1 L200.6,180.0 L202.6,179.9 L204.6,179.8 L206.6,179.8 L208.6,179.7 L210.6,179.6 L212.6,179.6 L214.6,179.5 L216.6,179.5 L218.6,179.4 L220.6,179.4 L222.6,179.4 L224.6,179.4 L226.6,179.4 L228.6,179.4 L230.6,179.4 L232.6,179.4 L234.6,179.4 L236.6,179.5 L238.6,179.5 L240.6,179.5 L242.6,179.6 L244.6,179.7 L246.6,179.7 L248.6,179.8 L250.6,179.9 L252.6,180.0 L254.6,180.1 L256.6,180.3 L258.6,180.4 L260.6,180.5 L262.6,180.7 L264.6,180.9 L266.6,181.0 L268.6,181.3 L270.6,181.5 L272.6,181.7 L274.6,182.0 L276.6,182.3 L278.6,182.6 L280.6,183.0 L282.6,183.3 L284.6,183.8 L286.6,184.2 L288.6,184.7 L290.6,185.2 L292.6,185.7 L294.6,186.3 L296.6,187.0 L298.6,187.6 L300.6,188.3 L302.6,189.1 L304.6,189.9 L306.6,190.8 L308.6,191.7 L310.6,192.6 L312.6,193.6 L314.6,194.7 L316.6,195.8 L318.6,197.0 L320.6,198.3 L322.6,199.6 L324.6,201.0 L326.6,202.4 L328.6,203.9 L330.6,205.5 L332.6,207.2 L334.6,208.9 L336.6,210.6 L338.6,212.3 L340.6,213.9 L342.6,215.5 L344.6,217.1 L346.6,218.7 L348.6,220.4 L350.6,222.0 L352.6,223.8 L354.6,225.6 L356.6,227.5 L358.6,229.6 L360.6,231.7 L362.6,234.0 L364.6,236.3 L366.6,238.6 L368.6,241.0 L370.6,243.3 L372.6,245.6 L374.6,247.9 L376.6,250.1 L378.6,252.2 L380.6,254.3 L382.6,256.3 L384.6,258.2 L386.6,260.1 L388.6,262.0 L390.6,263.9 L392.6,265.7 L394.6,267.6 L396.6,269.5 L398.6,271.4 L400.6,273.2 L402.6,275.0 L404.6,276.9 L406.6,278.7 L408.6,280.5 L410.6,282.2 L412.6,283.9 L414.6,285.6 L416.6,287.3 L418.6,288.9 L420.6,290.5 L422.6,292.1 L424.6,293.7 L426.6,295.2 L428.6,296.7 L430.6,298.2 L432.6,299.7 L434.6,301.1 L436.6,302.6 L438.6,304.0 L440.6,305.4 L442.6,306.8 L444.6,308.2 L446.6,309.6 L448.6,311.0 L450.6,312.4 L452.6,313.7 L454.6,315.1 L456.6,316.5 L458.6,317.9 L460.6,319.2 L462.6,320.6 L464.6,322.0 L466.6,323.4 L468.6,324.8 L470.6,326.2 L472.6,327.6 L474.6,329.0 L476.6,330.4 L478.6,331.8 L480.6,333.2 L482.6,334.5 L484.6,335.9 L486.6,337.3 L488.6,338.6 L490.6,340.0 L492.6,341.3 L494.6,342.6 L496.4,343.8"/>
<path stroke="#008000" d="M86.2,343.9 L86.2,342.9 L86.2,341.9 L86.2,340.9 L86.2,339.9 L86.2,338.9 L86.2,337.9 L86.2,336.9 L86.2,335.9 L86.2,334.9 L86.2,333.9 L86.2,332.9 L86.2,331.9 L86.2,330.9 L86.2,329.9 L86.3,328.9 L86.3,327.9 L86.3,326.9 L86.3,325.9 L86.3,324.9 L86.3,323.9 L86.3,322.9 L86.3,321.9 L86.3,320.9 L86.3,319.9 L86.3,318.8 L86.3,317.8 L86.3,316.8 L86.3,315.8 L86.3,314.8 L86.3,313.8 L86.3,312.8 L86.3,311.8 L86.3,310.8 L86.3,309.8 L86.4,308.8 L86.4,307.8 L86.4,306.8 L86.4,305.8 L86.4,304.8 L86.4,303.8 L86.4,302.8 L86.4,301.8 L86.4,300.8 L86.4,299.8 L86.4,298.8 L86.4,297.8 L86.4,296.8 L86.4,295.8 L86.4,294.8 L86.4,293.8 L86.4,292.8 L86.5,291.8 L86.5,290.8 L86.5,289.8 L86.5,288.8 L86.5,287.8 L86.5,286.8 L86.5,285.8 L86.5,284.8 L86.5,283.8 L86.5,282.8 L86.5,281.8 L86.5,280.8 L86.5,279.8 L86.5,278.8 L86.6,277.8 L86.6,276.8 L86.6,275.8 L86.6,274.8 L86.6,273.8 L86.6,272.8 L86.6,271.8 L86.6,270.8 L86.6,269.8 L86.6,268.8 L86.6,267.7 L86.6,266.7 L86.7,265.7 L86.7,264.7 L86.7,263.7 L86.7,262.7 L86.7,261.7 L86.7,260.7 L86.7,259.7 L86.7,258.7 L86.7,257.7 L86.7,256.7 L86.7,255.7 L86.8,254.7 L86.8,253.7 L86.8,252.7 L86.8,251.7 L86.8,250.7 L86.8,249.7 L86.8,248.7 L86.8,247.7 L86.8,246.7 L86.8,245.7 L86.9,244.7 L86.9,243.7 L86.9,242.7 L86.9,241.7 L86.9,240.7 L86.9,239.7 L86.9,238.7 L86.9,237.7 L86.9,236.7 L86.9,235.7 L87.0,234.7 L87.0,233.7 L87.0,232.7 L87.0,231.7 L87.0,230.7 L87.0,229.7 L87.0,228.7 L87.0,227.7 L87.0,226.7 L87.1,225.7 L87.1,224.7 L87.1,223.7 L87.1,222.7 L87.1,221.7 L87.1,220.7 L87.1,219.7 L87.1,218.7 L87.1,217.6 L87.2,216.6 L87.2,215.6 L87.2,214.6 L87.2,213.6 L87.2,212.6 L87.2,211.6 L87.2,210.6 L87.3,209.6 L87.3,208.6 L87.3,207.6 L87.3,206.6 L87.3,205.6 L87.3,204.6 L87.3,203.6 L87.4,202.6 L87.4,201.6 L87.4,200.6 L87.4,199.6 L87.4,198.6 L87.4,197.6 L87.5,196.6 L87.5,195.6 L87.5,194.6 L87.5,193.6 L87.5,192.6 L87.6,191.6 L87.6,190.6 L87.6,189.6 L87.6,188.6 L87.7,187.6 L87.7,186.6 L87.7,185.6 L87.7,184.6 L87.8,183.6 L87.8,182.6 L87.9,181.6 L87.9,180.6 L87.9,179.6 L88.0,178.6 L88.0,177.6 L88.1,176.6 L88.1,175.6 L88.1,174.6 L88.2,173.6 L88.2,172.6 L88.3,171.6 L88.3,170.6 L88.4,169.6 L88.4,168.6 L88.5,167.6 L88.5,166.6 L88.6,165.6 L88.6,164.6 L88.6,163.6 L88.7,162.6 L88.7,161.6 L88.8,160.6 L88.8,159.6 L88.9,158.6 L88.9,157.6 L88.9,156.6 L89.0,155.6 L89.0,154.6 L89.1,153.6 L89.1,152.6 L89.1,151.6 L89.2,150.6 L89.2,149.5 L89.3,148.5 L89.3,147.5 L89.4,146.5 L89.4,145.5 L89.4,144.5 L89.5,143.5 L89.5,142.5 L89.6,141.5 L89.6,140.5 L89.6,139.5 L89.7,138.5 L89.7,137.5 L89.8,136.5 L89.8,135.5 L89.9,134.5 L89.9,133.5 L90.0,132.5 L90.0,131.5 L90.0,130.5 L90.1,129.5 L90.1,128.5 L90.2,127.5 L90.2,126.5 L90.3,125.5 L90.3,124.5 L90.4,123.5 L90.4,122.5 L90.5,121.5 L90.5,120.5 L90.6,119.5 L90.6,118.5 L90.7,117.5 L90.7,116.5 L90.7,115.5 L90.8,114.5 L90.8,113.5 L90.9,112.5 L90.9,111.5 L91.0,110.5 L91.0,109.5 L91.1,108.5 L91.2,107.5 L91.2,106.5 L91.3,105.5 L91.3,104.5 L91.4,103.5 L91.4,102.5 L91.5,101.5 L91.6,100.5 L91.6,99.5 L91.7,98.5 L91.7,97.5 L91.8,96.5 L91.9,95.5 L91.9,94.5 L92.0,93.5 L92.1,92.5 L92.1,91.5 L92.2,90.5 L92.3,89.5 L92.4,88.5 L92.5,87.5 L92.5,86.5 L92.6,85.5 L92.8,84.2 L92.9,82.9 L93.0,81.7 L93.2,80.8 L93.4,80.4 L93.7,80.8 L94.1,82.0 L94.4,83.1 L94.6,84.0 L94.7,85.0 L94.9,86.0 L95.0,87.0 L95.1,88.0 L95.3,89.0 L95.5,90.0 L95.6,91.0 L95.8,92.0 L95.9,93.0 L96.1,94.0 L96.3,94.9 L96.4,95.9 L96.6,96.9 L96.8,97.9 L97.0,98.9 L97.2,99.9 L97.4,100.9 L97.6,101.8 L97.8,102.8 L98.0,103.8 L98.2,104.8 L98.5,105.7 L98.7,106.7 L98.9,107.7 L99.1,108.7 L99.3,109.7 L99.5,110.6 L99.7,111.6 L100.0,112.6 L100.2,113.6 L100.4,114.6 L100.6,115.5 L100.8,116.5 L101.0,117.5 L101.2,118.5 L101.5,119.5 L101.7,120.4 L101.9,121.4 L102.1,122.4 L102.3,123.4 L102.5,124.3 L102.7,125.3 L103.0,126.3 L103.2,127.3 L103.4,128.3 L103.6,129.2 L103.8,130.2 L104.0,131.2 L104.2,132.2 L104.4,133.2 L104.7,134.1 L104.9,135.1 L105.1,136.1 L105.3,137.1 L105.5,138.1 L105.7,139.0 L105.9,140.0 L106.1,141.0 L106.4,142.0 L106.6,143.0 L106.8,143.9 L107.0,144.9 L107.2,145.9 L107.4,146.9 L107.6,147.8 L107.8,148.8 L108.0,149.8 L108.3,150.8 L108.5,151.8 L108.7,152.7 L108.9,153.7 L109.2,154.7 L109.4,155.7 L109.6,156.6 L109.9,157.6 L110.1,158.6 L110.4,159.6 L110.6,160.6 L110.9,161.5 L111.1,162.5 L111.4,163.5 L111.7,164.5 L111.9,165.4 L112.2,166.4 L112.5,167.3 L112.9,168.3 L113.2,169.2 L113.5,170.1 L113.9,171.0 L114.3,172.0 L114.7,172.9 L115.1,173.9 L115.5,174.8 L116.0,175.7 L116.5,176.6 L117.0,177.5 L117.5,178.4 L118.1,179.2 L118.6,180.0 L119.3,180.7 L119.9,181.4 L120.7,182.2 L121.5,182.9 L122.3,183.5 L123.2,184.1 L124.0,184.5 L124.9,184.7 L125.9,184.9 L126.8,185.1 L127.8,185.2 L128.9,185.3 L129.9,185.4 L130.9,185.5 L131.9,185.5 L132.9,185.5 L133.9,185.4 L134.9,185.2 L135.9,185.0 L136.9,184.8 L137.9,184.5 L138.8,184.3 L139.8,184.1 L140.8,184.0 L141.8,183.8 L142.8,183.5 L143.8,183.3 L144.7,183.1 L145.7,182.9 L146.7,182.7 L147.7,182.5 L148.7,182.3 L149.7,182.1 L150.6,181.9 L152.6,181.6 L154.6,181.4 L156.6,181.3 L158.6,181.1 L160.6,181.0 L162.6,180.9 L164.6,180.7 L166.6,180.6 L168.6,180.4 L170.6,180.3 L172.6,180.2 L174.6,180.1 L176.6,179.9 L178.6,179.9 L180.6,179.8 L182.6,179.7 L184.6,179.6 L186.6,179.5 L188.6,179.5 L190.6,179.4 L192.6,179.3 L194.6,179.3 L196.6,179.2 L198.6,179.2 L200.6,179.1 L202.6,179.1 L204.6,179.1 L206.6,179.0 L208.6,179.0 L210.6,179.0 L212.6,179.0 L214.6,179.0 L216.6,179.0 L218.6,179.0 L220.6,179.1 L222.6,179.1 L224.6,179.1 L226.6,179.2 L228.6,179.3 L230.6,179.4 L232.6,179.5 L234.6,179.6 L236.6,179.7 L238.6,179.8 L240.6,180.0 L242.6,180.1 L244.6,180.3 L246.6,180.5 L248.6,180.7 L250.6,180.9 L252.6,181.2 L254.6,181.4 L256.6,181.7 L258.6,182.0 L260.6,182.3 L262.6,182.6 L264.6,183.0 L266.6,183.4 L268.6,183.8 L270.6,184.2 L272.6,184.7 L274.6,185.2 L276.6,185.7 L278.6,186.3 L280.6,186.9 L282.6,187.6 L284.6,188.2 L286.6,189.0 L288.6,189.8 L290.6,190.6 L292.6,191.5 L294.6,192.4 L296.6,193.4 L298.6,194.4 L300.6,195.5 L302.6,196.6 L304.6,197.8 L306.6,199.1 L308.6,200.4 L310.6,201.7 L312.6,203.1 L314.6,204.6 L316.6,206.1 L318.6,207.7 L320.6,209.3 L322.6,210.9 L324.6,212.6 L326.6,214.4 L328.6,216.2 L330.6,218.1 L332.6,220.0 L334.6,222.1 L336.6,224.3 L338.6,226.8 L340.6,229.5 L342.6,232.4 L344.6,235.4 L346.6,238.3 L348.6,241.2 L350.6,243.9 L352.6,246.5 L354.6,249.0 L356.6,251.3 L358.6,253.5 L360.6,255.7 L362.6,257.8 L364.6,259.8 L366.6,261.7 L368.6,263.7 L370.6,265.6 L372.6,267.4 L374.6,269.3 L376.6,271.1 L378.6,273.0 L380.6,274.8 L382.6,276.6 L384.6,278.4 L386.6,280.1 L388.6,281.9 L390.6,283.6 L392.6,285.3 L394.6,287.1 L396.6,288.8 L398.6,290.5 L400.6,292.1 L402.6,293.8 L404.6,295.5 L406.6,297.1 L408.6,298.8 L410.6,300.4 L412.6,302.0 L414.6,303.6 L416.6,305.2 L418.6,306.8 L420.6,308.4 L422.6,310.0 L424.6,311.5 L426.6,313.1 L428.6,314.6 L430.6,316.1 L432.6,317.6 L434.6,319.1 L436.6,320.6 L438.6,322.0 L440.6,323.5 L442.6,324.9 L444.6,326.3 L446.6,327.7 L448.6,329.1 L450.6,330.5 L452.6,331.8 L454.6,333.1 L456.6,334.4 L458.6,335.7 L460.6,337.0 L462.6,338.3 L464.6,339.5 L466.6,340.7 L468.6,341.9 L470.6,343.1 L471.8,343.8"/>
</g>
<path d="M85.10,343.9 v-6.2 M121.74,343.9 v-3.5 M158.38,343.9 v-6.2 M195.01,343.9 v-3.5 M231.65,343.9 v-6.2 M268.29,343.9 v-3.5 M304.93,343.9 v-6.2 M341.56,343.9 v-3.5 M378.20,343.9 v-6.2 M414.84,343.9 v-3.5 M451.48,343.9 v-6.2 M488.11,343.9 v-3.5 M524.75,343.9 v-6.2 M85.1,343.90 h6 M85.1,316.60 h3.4 M85.1,289.31 h6 M85.1,262.01 h3.4 M85.1,234.72 h6 M85.1,207.42 h3.4 M85.1,180.12 h6 M85.1,152.83 h3.4 M85.1,125.53 h6 M85.1,98.24 h3.4 M85.1,70.94 h6 M85.1,43.65 h3.4 M85.1,16.35 h6" stroke="#1a1a1a" stroke-width="1.3" fill="none"/>
<g font-size="21px">
<text x="85.5" y="367.2" text-anchor="middle">0</text>
<text x="158.8" y="367.2" text-anchor="middle">25</text>
<text x="232.1" y="367.2" text-anchor="middle">50</text>
<text x="305.3" y="367.2" text-anchor="middle">75</text>
<text x="378.6" y="367.2" text-anchor="middle">100</text>
<text x="451.9" y="367.2" text-anchor="middle">125</text>
<text x="525.1" y="367.2" text-anchor="middle">150</text>
<text x="77.4" y="350.3" text-anchor="end">1000</text>
<text x="77.4" y="295.7" text-anchor="end">1050</text>
<text x="77.4" y="241.1" text-anchor="end">1100</text>
<text x="77.4" y="186.5" text-anchor="end">1150</text>
<text x="77.4" y="131.9" text-anchor="end">1200</text>
<text x="77.4" y="77.3" text-anchor="end">1250</text>
<text x="77.4" y="22.8" text-anchor="end">1300</text>
</g>
<text x="305.5" y="394.1" font-size="21.7px" text-anchor="middle">Time, <tspan font-style="italic">t</tspan>/s</text>
<text transform="translate(27.2,179.6) rotate(-90)" font-size="21.4px" text-anchor="middle">Temperature, <tspan font-style="italic">T</tspan>/°C</text>
<line x1="320.1" x2="369.1" y1="34.0" y2="34.0" stroke="#000000" stroke-width="1.5"/>
<text x="374.0" y="41.2" font-size="21.4px">0% FeS<tspan font-size="14px" dy="5.3">2</tspan></text>
<line x1="320.1" x2="369.1" y1="64.9" y2="64.9" stroke="#0000ff" stroke-width="1.5"/>
<text x="374.0" y="72.1" font-size="21.4px">0.05% FeS<tspan font-size="14px" dy="5.3">2</tspan></text>
<line x1="320.1" x2="369.1" y1="96.0" y2="96.0" stroke="#008000" stroke-width="1.5"/>
<text x="374.0" y="103.2" font-size="21.4px">0.10% FeS<tspan font-size="14px" dy="5.3">2</tspan></text>
<line x1="320.1" x2="369.1" y1="127.2" y2="127.2" stroke="#ff0000" stroke-width="1.5"/>
<text x="374.0" y="134.4" font-size="21.4px">0.20% FeS<tspan font-size="14px" dy="5.3">2</tspan></text>
</svg></body></html>
